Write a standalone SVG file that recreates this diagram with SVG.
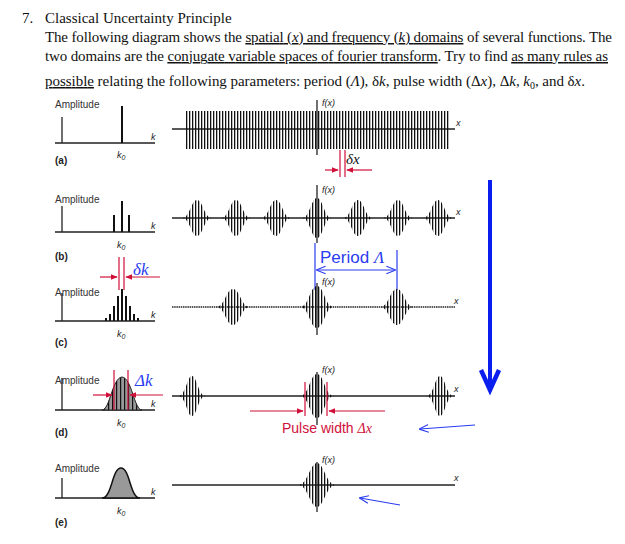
<svg xmlns="http://www.w3.org/2000/svg" width="625" height="544" viewBox="0 0 625 544">
<defs>
<pattern id="osc" patternUnits="userSpaceOnUse" width="3" height="20"><rect width="1.3" height="20" fill="#111"/></pattern>
<pattern id="osc2" patternUnits="userSpaceOnUse" width="4" height="20"><rect width="1.2" height="20" fill="#111"/></pattern>
<marker id="ra" viewBox="0 0 10 10" refX="9" refY="5" markerWidth="6" markerHeight="6" orient="auto"><path d="M0,1 L10,5 L0,9z" fill="#d0103a"/></marker>
<marker id="ba" viewBox="0 0 10 10" refX="9" refY="5" markerWidth="8" markerHeight="8" orient="auto-start-reverse"><path d="M0,1 L10,5 L0,9" fill="none" stroke="#2a3cf0" stroke-width="1.2"/></marker>
</defs>
<style>
.h{font-family:"Liberation Serif",serif;font-size:15px;fill:#111}
.u{text-decoration:underline}
.am{font-family:"Liberation Sans",sans-serif;font-size:10px;fill:#333}
.lb{font-family:"Liberation Sans",sans-serif;font-size:10px;font-weight:bold;fill:#222}
.it{font-family:"Liberation Sans",sans-serif;font-size:9px;font-style:italic;fill:#222}
.ax{stroke:#222;stroke-width:1.3;fill:none}
.sp{stroke:#111;stroke-width:2;fill:none}
.red{stroke:#d0103a;stroke-width:1.2;fill:none}
.blue{stroke:#2a3cf0;stroke-width:1.2;fill:none}
.bt{font-family:"Liberation Serif",serif;font-style:italic;fill:#2a3cf0}
.pulse{fill:url(#osc)}
</style>
<g id="header">
<text class="h" x="22" y="23">7.</text>
<text class="h" x="45" y="23">Classical Uncertainty Principle</text>
<text class="h" x="45" y="42" textLength="567">The following diagram shows the <tspan class="u">spatial (<tspan font-style="italic">x</tspan>) and frequency (<tspan font-style="italic">k</tspan>) domains</tspan> of several functions. The</text>
<text class="h" x="45" y="61" textLength="563">two domains are the <tspan class="u">conjugate variable spaces of fourier transform</tspan>. Try to find <tspan class="u">as many rules as</tspan></text>
<text class="h" x="45" y="86" textLength="540"><tspan class="u">possible</tspan> relating the following parameters: period (<tspan font-style="italic">Λ</tspan>), δ<tspan font-style="italic">k</tspan>,  pulse width (Δ<tspan font-style="italic">x</tspan>), Δ<tspan font-style="italic">k</tspan>, <tspan font-style="italic">k</tspan><tspan font-size="10" dy="3">0</tspan><tspan dy="-3">, and δ</tspan><tspan font-style="italic">x</tspan>.</text>
</g>
<g id="row-a">
<text class="am" x="55" y="108">Amplitude</text>
<path class="ax" d="M62,117V143M55,143H155"/><path class="sp" d="M122,106V143"/>
<text class="it" x="151" y="140">k</text><text class="it" x="117" y="158">k<tspan font-size="7" dy="2">0</tspan></text>
<text class="lb" x="55" y="164">(a)</text>
<path class="ax" d="M172,129H455"/>
<rect x="186" y="111" width="264" height="38" class="pulse"/>
<path class="ax" d="M317,100V155"/>
<text class="it" x="322" y="106">f(x)</text><text class="it" x="456" y="126">x</text>
<path class="red" d="M340,150V177M345,150V177"/>
<path class="red" d="M325,170H338" marker-end="url(#ra)"/><path class="red" d="M372,170H347" marker-end="url(#ra)"/>
<text x="346" y="164" font-size="15" font-family="Liberation Serif,serif" font-style="italic" fill="#111">δx</text>
</g>
<g id="row-b">
<text class="am" x="55" y="203">Amplitude</text>
<path class="ax" d="M62,206V232M55,232H155"/><path class="sp" d="M114,215V232M122,201V232M129,215V232"/>
<text class="it" x="151" y="229">k</text><text class="it" x="117" y="248">k<tspan font-size="7" dy="2">0</tspan></text>
<text class="lb" x="55" y="260">(b)</text>
<path class="ax" d="M172,218H455"/>
<g class="pulse">
<path d="M182,218C190,218 191,200 197,200C203,200 204,218 212,218C204,218 203,236 197,236C191,236 190,218 182,218z"/>
<path d="M221,218C229,218 230,200 236,200C242,200 243,218 251,218C243,218 242,236 236,236C230,236 229,218 221,218z"/>
<path d="M261,218C269,218 270,200 276,200C282,200 283,218 291,218C283,218 282,236 276,236C270,236 269,218 261,218z"/>
<path d="M302,218C310,218 311,198 317,198C323,198 324,218 332,218C324,218 323,238 317,238C311,238 310,218 302,218z"/>
<path d="M343,218C351,218 352,200 358,200C364,200 365,218 373,218C365,218 364,236 358,236C352,236 351,218 343,218z"/>
<path d="M383,218C391,218 392,200 398,200C404,200 405,218 413,218C405,218 404,236 398,236C392,236 391,218 383,218z"/>
<path d="M423,218C431,218 432,200 438,200C444,200 445,218 453,218C445,218 444,236 438,236C432,236 431,218 423,218z"/>
</g>
<path class="ax" d="M317,185V243"/>
<text class="it" x="322" y="193">f(x)</text><text class="it" x="456" y="215">x</text>
<path class="blue" d="M315,243V290M397,250V290"/>
<path class="blue" d="M317,270H395" marker-start="url(#ba)" marker-end="url(#ba)"/>
<text x="320" y="263" font-family="Liberation Sans,sans-serif" font-size="17" fill="#2a3cf0">Period <tspan font-family="Liberation Serif,serif" font-style="italic">Λ</tspan></text>
</g>
<g id="row-c">
<text class="am" x="55" y="296">Amplitude</text>
<path class="ax" d="M62,293V321M55,321H155"/>
<path class="sp" stroke-width="1.6" d="M106,318V321M110,314V321M114,306V321M118,296V321M122,289V321M126,296V321M130,306V321M134,314V321M138,318V321"/>
<text class="it" x="151" y="318">k</text><text class="it" x="117" y="337">k<tspan font-size="7" dy="2">0</tspan></text>
<text class="lb" x="55" y="346">(c)</text>
<path class="red" d="M119,257V290M124,257V290"/>
<path class="red" d="M100,277H117" marker-end="url(#ra)"/><path class="red" d="M160,277H126" marker-end="url(#ra)"/>
<text class="bt" x="133" y="275" font-size="17">δk</text>
<path class="ax" d="M172,307H455" stroke-dasharray="1.5 0.7"/>
<g class="pulse">
<path d="M216,307C225,307 226,289 233,289C240,289 241,307 250,307C241,307 240,325 233,325C226,325 225,307 216,307z"/>
<path d="M300,307C309,307 310,286 317,286C324,286 325,307 334,307C325,307 324,328 317,328C310,328 309,307 300,307z"/>
<path d="M380,307C389,307 390,289 397,289C404,289 405,307 414,307C405,307 404,325 397,325C390,325 389,307 380,307z"/>
</g>
<path class="ax" d="M317,283V335"/>
<text class="it" x="322" y="285">f(x)</text><text class="it" x="454" y="304">x</text>
</g>
<g id="row-d">
<text class="am" x="55" y="384">Amplitude</text>
<path class="ax" d="M62,378V410M55,410H155"/>
<path d="M102,410C110,410 112,378 122,377C132,378 134,410 142,410z" fill="#999"/>
<path d="M102,410C110,410 112,378 122,377C132,378 134,410 142,410z" fill="url(#osc2)" stroke="#222"/>
<text class="it" x="151" y="407">k</text><text class="it" x="117" y="426">k<tspan font-size="7" dy="2">0</tspan></text>
<text class="lb" x="55" y="436">(d)</text>
<path class="red" d="M114,370V410M128,370V410"/>
<path class="red" d="M93,395H112" marker-end="url(#ra)"/><path class="red" d="M163,395H130" marker-end="url(#ra)"/>
<text class="bt" x="135" y="386" font-size="17">Δk</text>
<path class="ax" d="M172,396H455"/>
<g class="pulse">
<path d="M178,396C186,396 187,376 192,376C197,376 198,396 206,396C198,396 197,416 192,416C187,416 186,396 178,396z"/>
<path d="M300,396C309,396 310,374 317,374C324,374 325,396 334,396C325,396 324,418 317,418C310,418 309,396 300,396z"/>
<path d="M426,396C434,396 435,376 440,376C445,376 446,396 454,396C446,396 445,416 440,416C435,416 434,396 426,396z"/>
</g>
<path class="ax" d="M317,372V425"/>
<text class="it" x="322" y="373">f(x)</text><text class="it" x="454" y="392">x</text>
<path class="red" d="M305,382V416M327,382V416"/>
<path class="red" d="M250,411H303" marker-end="url(#ra)"/><path class="red" d="M385,411H329" marker-end="url(#ra)"/>
<text x="282" y="433" font-family="Liberation Sans,sans-serif" font-size="14" fill="#d0103a">Pulse width <tspan font-family="Liberation Serif,serif" font-style="italic">Δx</tspan></text>
<path class="blue" d="M475,425L420,429" marker-end="url(#ba)"/>
</g>
<g id="row-e">
<text class="am" x="55" y="472">Amplitude</text>
<path class="ax" d="M62,478V498M55,498H155"/>
<path d="M102,498C112,498 112,468 121,468C130,468 130,498 140,498z" fill="#999" stroke="#111" stroke-width="1.5"/>
<text class="it" x="151" y="495">k</text><text class="it" x="117" y="514">k<tspan font-size="7" dy="2">0</tspan></text>
<text class="lb" x="55" y="526">(e)</text>
<path class="ax" d="M172,485H455" stroke-width="1.8"/>
<path class="pulse" d="M298,485C308,485 310,463 317,463C324,463 326,485 336,485C326,485 324,507 317,507C310,507 308,485 298,485z"/>
<path class="ax" d="M317,462V512"/>
<text class="it" x="322" y="463">f(x)</text><text class="it" x="454" y="481">x</text>
<path class="blue" d="M400,505L360,498" marker-end="url(#ba)"/>
</g>
<g id="big-arrow">
<path d="M490,180V388" stroke="#0a1ef0" stroke-width="4" fill="none"/>
<path d="M481,370L490,390L499,370" stroke="#0a1ef0" stroke-width="4.5" fill="none"/>
</g>
</svg>
